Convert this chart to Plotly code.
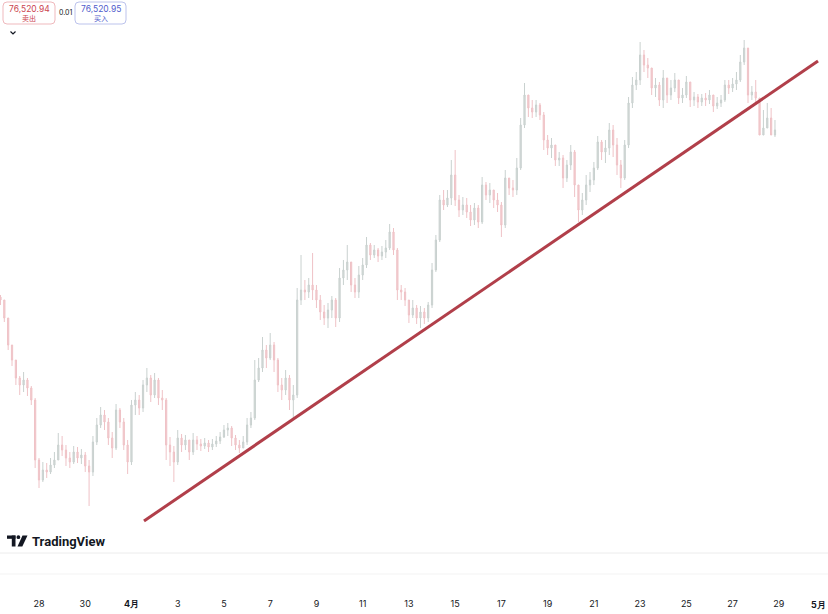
import plotly.graph_objects as go
import pandas as pd

# ---------------- data (4h candles) ----------------
start_time = "2025-03-26 08:00"
first_open = 73180

closes = [
    73120, 72760, 72220, 71920, 71560, 71420, 71520, 71360, 71120, 69920,
    69520, 69720, 69680, 69820, 69920, 70220, 70120, 69960, 69880, 70080,
    69960, 70020, 69800, 69680, 70280, 70620, 70820, 70680, 70360, 70160,
    70920, 70680, 70220, 69880, 71020, 71120, 70960, 71420, 71560, 71220,
    71520, 71160, 71120, 70220, 70080, 69880, 70360, 70220, 70320, 70080,
    70320, 70240, 70200, 70260, 70180, 70240, 70300, 70380, 70520, 70560,
    70360, 70220, 70160, 70280, 70620, 70760, 71520, 71760, 72120, 71960,
    72220, 71920, 71420, 71320, 71560, 71120, 71220, 73120, 73320, 73280,
    73420, 73320, 73120, 72880, 72760, 72920, 73120, 72760, 73560, 73720,
    73880, 73420, 73280, 73620, 73820, 74220, 74020, 74120, 74000, 74080,
    74160, 74480, 74120, 73320, 73280, 73120, 72820, 72960, 72760, 72880,
    72760, 73020, 73720, 74320, 75120, 75020, 75160, 75620, 75120, 74920,
    75020, 74880, 74720, 74960, 74680, 75420, 75220, 75320, 75120, 75020,
    74620, 75560, 75360, 75320, 75760, 76620, 77220, 76960, 76880, 77020,
    76820, 76320, 76160, 76220, 75920, 75960, 75560, 75820, 76080, 75420,
    74920, 75120, 75420, 75520, 75760, 76280, 76080, 76160, 76520, 76220,
    75820, 75560, 76220, 77060, 77420, 77520, 78020, 77820, 77760, 77360,
    77420, 77120, 77560, 77220, 77360, 77520, 77160, 77220, 77480, 77120,
    77180, 77080, 77160, 77120, 77220, 77000, 77060, 77120, 77420, 77360,
    77440, 77520, 77880, 78160, 77220, 77280, 77160, 76420, 76560, 76760,
    76420, 76520.94,
]

highs = [
    73220, 72920, 72420, 72080, 71760, 71600, 71680, 71560, 71400, 71160,
    69960, 69880, 69860, 69960, 70080, 70460, 70400, 70220, 70080, 70200,
    70180, 70140, 70080, 69920, 70400, 70760, 70980, 70920, 70760, 70480,
    71040, 70960, 70760, 70320, 71120, 71280, 71220, 71520, 71760, 71620,
    71660, 71560, 71320, 71160, 70380, 70200, 70520, 70440, 70420, 70320,
    70460, 70400, 70340, 70360, 70320, 70340, 70400, 70480, 70620, 70660,
    70600, 70420, 70320, 70400, 70760, 70880, 71920, 71960, 72380, 72220,
    72460, 72280, 71960, 71560, 71720, 71620, 71420, 73360, 74020, 73520,
    73560, 74060, 73420, 73220, 73020, 73060, 73200, 73160, 73760, 73920,
    74220, 73880, 73560, 73800, 73960, 74380, 74260, 74220, 74160, 74200,
    74320, 74640, 74560, 74160, 73420, 73360, 73120, 73120, 73020, 73000,
    72960, 73080, 73860, 74420, 75220, 75320, 75320, 75920, 76120, 75220,
    75180, 75160, 75020, 75060, 75020, 75580, 75480, 75460, 75320, 75260,
    75080, 75720, 75560, 75520, 75960, 76760, 77460, 77200, 77120, 77120,
    77060, 76880, 76420, 76360, 76220, 76080, 76020, 75920, 76220, 76120,
    75420, 75260, 75620, 75680, 75880, 76400, 76320, 76320, 76660, 76620,
    76360, 75920, 76320, 77180, 77580, 77680, 78280, 78120, 77960, 77720,
    77560, 77480, 77720, 77560, 77520, 77660, 77480, 77360, 77600, 77440,
    77280, 77240, 77240, 77260, 77320, 77220, 77180, 77220, 77520, 77520,
    77560, 77680, 78020, 78320, 78120, 77400, 77520, 77120, 76920, 77060,
    76960, 76720,
]

lows = [
    73020, 72680, 72120, 71800, 71420, 71220, 71280, 71200, 71020, 69760,
    69360, 69480, 69560, 69640, 69760, 69960, 70000, 69800, 69760, 69840,
    69860, 69840, 69680, 69000, 69600, 70220, 70560, 70520, 70220, 69960,
    70120, 70560, 70120, 69640, 69820, 70820, 70820, 70880, 71280, 71080,
    71160, 71020, 70920, 69920, 69800, 69480, 69820, 70080, 70120, 69920,
    70020, 70120, 70100, 70140, 70080, 70120, 70180, 70240, 70360, 70400,
    70200, 70120, 70060, 70160, 70220, 70560, 70720, 71480, 71680, 71760,
    71920, 71680, 71280, 71120, 71220, 70920, 70760, 71160, 73020, 73120,
    73160, 73120, 72960, 72720, 72620, 72560, 72760, 72580, 72680, 73420,
    73520, 73280, 73160, 73160, 73520, 73760, 73920, 73960, 73880, 73920,
    73960, 74120, 74020, 73120, 73120, 73000, 72660, 72760, 72640, 72560,
    72640, 72680, 72960, 73680, 74280, 74920, 74980, 75020, 75000, 74780,
    74820, 74760, 74600, 74620, 74560, 74640, 75120, 75060, 74960, 74880,
    74380, 74560, 75220, 75180, 75220, 75720, 76560, 76780, 76760, 76780,
    76720, 76120, 76020, 75960, 75800, 75800, 75360, 75480, 75720, 75180,
    74680, 74820, 75020, 75280, 75420, 75720, 75920, 75860, 76020, 75980,
    75620, 75360, 75520, 76160, 76960, 77320, 77420, 77680, 77560, 77220,
    77180, 77000, 76960, 77060, 77120, 77280, 77040, 77060, 77160, 76980,
    77000, 76960, 77000, 77000, 77040, 76880, 76940, 76980, 77080, 77240,
    77280, 77320, 77480, 77820, 77060, 77120, 77040, 76460, 76520, 76560,
    76520, 76380,
]

trend_time = ["2025-04-01 13:00", "2025-04-30 16:40"]
trend_price = [68700, 77900]

tick_dates = ["2025-03-28", "2025-03-30", "2025-04-01", "2025-04-03", "2025-04-05",
              "2025-04-07", "2025-04-09", "2025-04-11", "2025-04-13", "2025-04-15",
              "2025-04-17", "2025-04-19", "2025-04-21", "2025-04-23", "2025-04-25",
              "2025-04-27", "2025-04-29", "2025-05-01"]
tick_labels = ["28", "30", "<b>4月</b>", "3", "5", "7", "9", "11", "13", "15",
               "17", "19", "21", "23", "25", "27", "29", "<b>5月</b>"]

sell_price = "76,520.94"
buy_price = "76,520.95"
spread = "0.01"

# ---------------- build ----------------
times = pd.date_range(start_time, periods=len(closes), freq="4h")
opens = [first_open] + closes[:-1]
highs_c = [max(h, o, c) for h, o, c in zip(highs, opens, closes)]
lows_c = [min(l, o, c) for l, o, c in zip(lows, opens, closes)]

W, H = 828, 614
PLOT_B = 553  # pixel of plot bottom


def px(x):
    return x / W


def py(y):
    return (PLOT_B - y) / PLOT_B


fig = go.Figure()
fig.add_trace(go.Candlestick(
    x=times, open=opens, high=highs_c, low=lows_c, close=closes,
    increasing=dict(line=dict(color="#c9d1cf", width=1), fillcolor="#d6dcda"),
    decreasing=dict(line=dict(color="#efc2c6", width=1), fillcolor="#f3d0d3"),
    whiskerwidth=0, hoverinfo="skip", showlegend=False,
))
fig.add_trace(go.Scatter(
    x=trend_time, y=trend_price, mode="lines",
    line=dict(color="#b13f4a", width=3), hoverinfo="skip", showlegend=False,
))

shapes = []
shapes.append(dict(type="line", xref="paper", yref="paper", x0=0, x1=1,
                   y0=py(553), y1=py(553), line=dict(color="#ececec", width=1)))
shapes.append(dict(type="line", xref="paper", yref="paper", x0=0, x1=1,
                   y0=py(574), y1=py(574), line=dict(color="#f3f3f3", width=1)))


def rrect(x0, y0, x1, y1, r, color):
    p = (f"M {px(x0 + r)} {py(y0)} L {px(x1 - r)} {py(y0)} "
         f"Q {px(x1)} {py(y0)} {px(x1)} {py(y0 + r)} L {px(x1)} {py(y1 - r)} "
         f"Q {px(x1)} {py(y1)} {px(x1 - r)} {py(y1)} L {px(x0 + r)} {py(y1)} "
         f"Q {px(x0)} {py(y1)} {px(x0)} {py(y1 - r)} L {px(x0)} {py(y0 + r)} "
         f"Q {px(x0)} {py(y0)} {px(x0 + r)} {py(y0)} Z")
    return dict(type="path", xref="paper", yref="paper", path=p,
                line=dict(color=color, width=1), fillcolor="white")


shapes.append(rrect(3, 2, 55, 24, 4, "#efb9bd"))
shapes.append(rrect(75, 2, 126, 24, 4, "#bcc3ec"))

shapes.append(dict(type="path", xref="paper", yref="paper",
                   path=f"M {px(10.5)} {py(31.5)} L {px(13)} {py(34)} L {px(15.5)} {py(31.5)}",
                   line=dict(color="#131722", width=1.2)))

logo_col = "#131722"
shapes.append(dict(type="rect", xref="paper", yref="paper", x0=px(7), x1=px(15.5),
                   y0=py(535.5), y1=py(538.8), fillcolor=logo_col, line=dict(width=0)))
shapes.append(dict(type="rect", xref="paper", yref="paper", x0=px(11.8), x1=px(15.5),
                   y0=py(535.5), y1=py(546.5), fillcolor=logo_col, line=dict(width=0)))
shapes.append(dict(type="circle", xref="paper", yref="paper", x0=px(16.5), x1=px(20.3),
                   y0=py(535.3), y1=py(539.1), fillcolor=logo_col, line=dict(width=0)))
shapes.append(dict(type="path", xref="paper", yref="paper",
                   path=f"M {px(22.5)} {py(535.5)} L {px(27.5)} {py(535.5)} L {px(22.3)} {py(546.5)} L {px(17.5)} {py(546.5)} Z",
                   fillcolor=logo_col, line=dict(width=0)))

ann = []
ann.append(dict(text="<b>TradingView</b>", x=px(30), y=py(541), xref="paper", yref="paper",
                xanchor="left", yanchor="middle", showarrow=False,
                font=dict(family="Roboto", size=13, color=logo_col)))
ann.append(dict(text=sell_price, x=px(29), y=py(8.5), xref="paper", yref="paper",
                showarrow=False, xanchor="center", yanchor="middle",
                font=dict(family="Inter", size=8.5, color="#cc4450")))
ann.append(dict(text="卖出", x=px(29), y=py(18), xref="paper", yref="paper",
                showarrow=False, xanchor="center", yanchor="middle",
                font=dict(family="Noto Sans CJK SC", size=7, color="#cc4450")))
ann.append(dict(text=buy_price, x=px(100.5), y=py(8.5), xref="paper", yref="paper",
                showarrow=False, xanchor="center", yanchor="middle",
                font=dict(family="Inter", size=8.5, color="#4f5ccc")))
ann.append(dict(text="买入", x=px(100.5), y=py(18), xref="paper", yref="paper",
                showarrow=False, xanchor="center", yanchor="middle",
                font=dict(family="Noto Sans CJK SC", size=7, color="#4f5ccc")))
ann.append(dict(text=spread, x=px(65), y=py(12), xref="paper", yref="paper",
                showarrow=False, xanchor="center", yanchor="middle",
                font=dict(family="Inter", size=7, color="#131722")))
# last month label sits at the right edge; keep it fully inside the picture
ann.append(dict(text=tick_labels[-1], x=1, y=py(604), xref="paper", yref="paper",
                showarrow=False, xanchor="right", yanchor="middle",
                font=dict(family="Inter", size=9, color="#131722")))

fig.update_layout(
    template="none",
    width=W, height=H, autosize=False,
    margin=dict(l=0, r=0, t=0, b=H - PLOT_B, pad=0),
    paper_bgcolor="white", plot_bgcolor="white",
    shapes=shapes, annotations=ann,
    showlegend=False, hovermode=False,
    boxgap=0.55,
    xaxis=dict(
        type="date", range=["2025-03-26 07:31", "2025-05-01 03:02"],
        tickmode="array", tickvals=tick_dates[:-1], ticktext=tick_labels[:-1],
        showgrid=False, zeroline=False, showline=False, ticks="",
        tickfont=dict(family="Inter", size=9, color="#131722"),
        ticklabelstandoff=44, automargin=False,
        rangeslider=dict(visible=False), fixedrange=True,
    ),
    yaxis=dict(range=[68060, 79120], visible=False, showgrid=False,
               zeroline=False, fixedrange=True),
)

post = ("document.documentElement.style.margin='0';"
        "document.documentElement.style.overflow='hidden';"
        "document.body.style.margin='0';document.body.style.padding='0';"
        "document.body.style.overflow='hidden';"
        "var gd=document.getElementById('{plot_id}');"
        "Plotly.relayout(gd,{width:828,height:614});")

fig.write_html("out.html", config=dict(responsive=False, displayModeBar=False),
               post_script=post)
